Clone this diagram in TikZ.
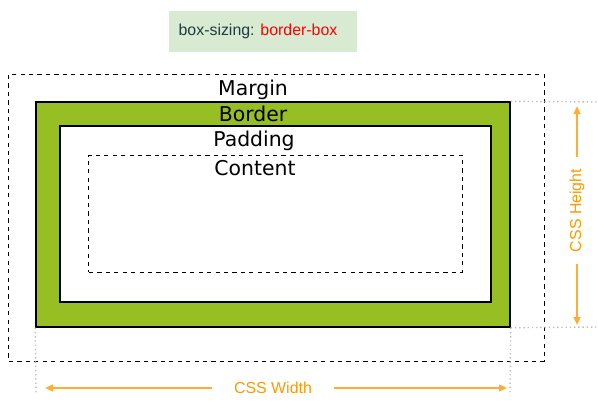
\documentclass[tikz,border=0pt]{standalone}
\usepackage{fontspec}
\setmainfont{DejaVu Sans}
\newfontfamily\arialfont{Liberation Sans}
\usetikzlibrary{arrows.meta,positioning}
\definecolor{bordergreen}{HTML}{97BE22}
\definecolor{tagfill}{HTML}{D9EAD3}
\definecolor{tagtext}{HTML}{1F3D3D}
\definecolor{cssorange}{HTML}{FF9900}
\tikzset{
  area/.style={draw, inner sep=0pt},
  dashedarea/.style={area, dash pattern=on 3pt off 3pt, line width=0.65pt},
  boxlbl/.style={font=\fontsize{14.5}{16}\selectfont, inner sep=0pt, anchor=base},
  guide/.style={draw=gray!50, dotted, line width=1pt},
  dim/.style={draw=cssorange!80, line width=1.3pt, -{Triangle[length=2mm,width=1.7mm]}},
  dimlbl/.style={text=cssorange, font=\arialfont\fontsize{11.3}{13}\selectfont, inner ysep=0pt},
}
\begin{document}
\begin{tikzpicture}[x=0.025cm, y=-0.025cm]
  \useasboundingbox (0,0) rectangle (598,408);
  % caption box
  \node[fill=tagfill, minimum width=4.7cm, minimum height=1.025cm,
        font=\arialfont\fontsize{11.3}{13}\selectfont] (tag) at (263,31.5)
    {\textcolor{tagtext}{box-sizing:} \textcolor{red}{border-box}\hspace*{0.25cm}};
  % the box model
  \node[dashedarea, minimum width=13.375cm, minimum height=7.175cm] (margin) at (276.5,217.5) {};
  \node[area, fill=bordergreen, line width=0.9pt, minimum width=11.85cm, minimum height=5.625cm] (border) at (273,214.5) {};
  \node[area, fill=white, line width=0.9pt, minimum width=10.775cm, minimum height=4.4cm] (padding) at (275.5,214) {};
  \node[dashedarea, minimum width=9.325cm, minimum height=2.925cm] (content) at (275.5,213.5) {};
  \node[boxlbl] (marginlbl) at (253,95) {Margin};
  \node[boxlbl] (borderlbl) at (253,121.5) {Border};
  \node[boxlbl] (paddinglbl) at (254,146) {Padding};
  \node[boxlbl] (contentlbl) at (255,175) {Content};
  % guide lines
  \coordinate (gTop) at (598,102);
  \coordinate (gBot) at (598,327);
  \coordinate (gLeft) at (36,395);
  \coordinate (gRight) at (510,395);
  \draw[guide] (border.north east) -- (gTop);
  \draw[guide] (border.south east) -- (gBot);
  \draw[guide] (border.south west) -- (gLeft);
  \draw[guide] (border.south east) -- (gRight);
  % dimensions
  \node[dimlbl, rotate=90, inner xsep=8.5pt] (cssh) at (577,210.5) {CSS Height};
  \coordinate (hTip1) at (577,106);
  \coordinate (hTip2) at (577,325);
  \draw[dim] (cssh.east) -- (hTip1);
  \draw[dim] (cssh.west) -- (hTip2);
  \node[dimlbl, inner xsep=15.5pt] (cssw) at (273,388) {CSS Width};
  \coordinate (wTip1) at (45,388);
  \coordinate (wTip2) at (507,388);
  \draw[dim] (cssw.west) -- (wTip1);
  \draw[dim] (cssw.east) -- (wTip2);
\end{tikzpicture}
\end{document}
